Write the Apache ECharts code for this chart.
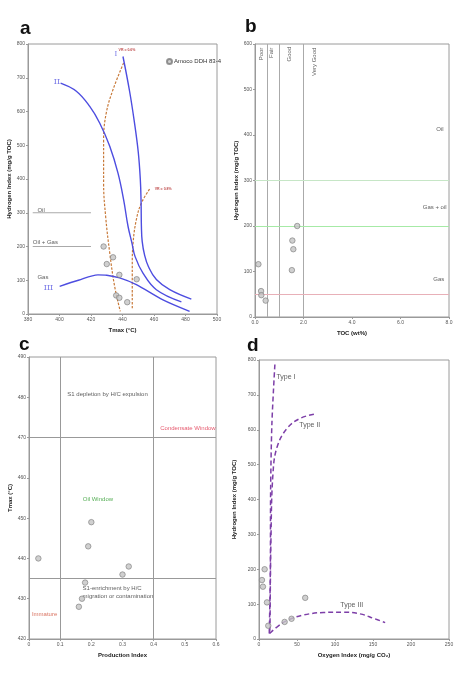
<!DOCTYPE html>
<html>
<head>
<meta charset="utf-8">
<script src="https://cdn.jsdelivr.net/npm/echarts@6/dist/echarts.min.js"></script>
<style>
html, body { margin: 0; padding: 0; background: #fff; }
#container { width: 474px; height: 679px; }
</style>
</head>
<body>
<div id="container"></div>
<script>
// panel a: Tmax vs HI
var aTmax = [428, 434, 430, 438, 449, 436, 438, 443];
var aHI = [200, 168, 148, 116, 103, 55, 48, 35];
// panel b: TOC vs HI
var bTOC = [1.74, 1.54, 1.58, 0.14, 1.52, 0.25, 0.26, 0.44];
var bHI = [200, 168, 149, 116, 103, 57, 48, 36];
// panel c: PI vs Tmax
var cPI = [0.20, 0.19, 0.03, 0.32, 0.30, 0.18, 0.17, 0.16];
var cTmax = [449, 443, 440, 438, 436, 434, 430, 428];
// panel d: OI vs HI
var dOI = [7.4, 3.9, 5.2, 10.5, 12.2, 33.7, 42.8, 60.8];
var dHI = [200, 169, 150, 105, 38, 49, 58, 118];

// kerogen pathways (panel a)
var pathI = [[440.3, 763], [444.5, 660], [447.5, 570], [450, 480], [451.3, 400], [451.8, 330], [452, 260], [452.5, 215], [454, 175], [456.5, 140], [461.5, 102], [470, 72], [483.7, 44]];
var pathII = [[400.7, 684], [410.7, 660], [419.2, 615], [425.5, 566], [431.9, 497], [437.1, 418], [440.7, 339], [443.5, 260], [446, 210], [448, 170], [453, 121], [461.5, 72], [477.4, 36]];
var pathIII = [[400.1, 82], [412, 100], [424.4, 116], [430, 115], [438.2, 107], [448.8, 87], [465.7, 42], [482.6, 8]];
var vr06 = [[440.7, 744], [434, 665], [429.7, 596], [428, 516], [428, 388], [429.3, 289], [431.9, 181], [435, 82], [438.6, 8]];
var vr08 = [[457.2, 370], [452, 329], [448.8, 280], [446.7, 210], [446.2, 141], [446.2, 13]];
var oilLine = [[383, 300], [420, 300]];
var oilGasLine = [[383, 200], [420, 200]];

// kerogen types (panel d)
var typeI = [[13.5, 16], [14.9, 188], [15.3, 427], [17, 619], [21, 791]];
var typeII = [[14, 22], [14.4, 35], [15.7, 284], [18.4, 475], [24, 552], [37, 604], [54.6, 633], [74.3, 645]];
var typeIII = [[13.9, 16], [24, 35], [37, 53], [59, 69], [85, 76], [111, 77], [133, 72], [151, 59], [166, 47]];

function zip(xs, ys) {
    return xs.map(function (x, i) { return [x, ys[i]]; });
}

var dom = document.getElementById('container');
var myChart = echarts.init(dom, null, { renderer: 'canvas' });

var font = 'Liberation Sans, Arial, sans-serif';
var frame = '#9a9a9a';

function xAx(grid, min, max, step, name, fmt) {
    return {
        type: 'value', gridIndex: grid, min: min, max: max, interval: step,
        name: name, nameLocation: 'middle', nameGap: 13,
        nameTextStyle: { fontSize: 6, fontWeight: 'bold', color: '#222', fontFamily: font },
        axisLine: { show: true, lineStyle: { color: frame } },
        axisTick: { show: true, length: 2, lineStyle: { color: frame } },
        axisLabel: { fontSize: 5, color: '#555', margin: 3, fontFamily: font, formatter: fmt },
        splitLine: { show: false }
    };
}
function yAx(grid, min, max, step, name, gap) {
    return {
        type: 'value', gridIndex: grid, min: min, max: max, interval: step,
        name: name, nameLocation: 'middle', nameGap: gap, nameRotate: 90,
        nameTextStyle: { fontSize: 6, fontWeight: 'bold', color: '#222', fontFamily: font },
        axisLine: { show: true, lineStyle: { color: frame } },
        axisTick: { show: true, length: 2, lineStyle: { color: frame } },
        axisLabel: { fontSize: 5, color: '#555', margin: 3, fontFamily: font },
        splitLine: { show: false }
    };
}

var pointStyle = { color: '#c4c4c4', borderColor: '#7a7a7a', borderWidth: 0.8 };

function textSeries(x, y, items) {
    return {
        type: 'scatter', xAxisIndex: x, yAxisIndex: y, symbolSize: 0, silent: true,
        data: items.map(function (t) {
            return {
                value: [t[1], t[2]],
                label: Object.assign({
                    show: true, formatter: t[0], position: 'inside',
                    fontSize: 6, color: '#333', fontFamily: font
                }, t[3] || {})
            };
        })
    };
}

function curve(x, y, data, color, width, type, smooth) {
    return {
        type: 'line', xAxisIndex: x, yAxisIndex: y, data: data, symbol: 'none',
        smooth: smooth, silent: true,
        lineStyle: { color: color, width: width, type: type }
    };
}

var blue = '#4d4de0';
var orange = '#c87a3a';
var purple = '#7d3fa8';

var option = {
    backgroundColor: '#fff',
    animation: false,
    title: [
        { text: 'a', left: 15, top: 14 },
        { text: 'b', left: 240, top: 12 },
        { text: 'c', left: 14, top: 330 },
        { text: 'd', left: 242, top: 331 }
    ].map(function (t) {
        t.textStyle = { fontSize: 19, fontWeight: 'bold', color: '#111', fontFamily: font };
        return t;
    }),
    legend: {
        left: 161, top: 53, itemWidth: 5, itemHeight: 5, itemGap: 2,
        icon: 'circle', data: ['Amoco DDH 83-4'],
        textStyle: { fontSize: 6, color: '#333', fontFamily: font, padding: [0, 0, 0, -3] }
    },
    grid: [
        { left: 28, top: 44, width: 189, height: 270 },
        { left: 255, top: 44, width: 194, height: 273 },
        { left: 29, top: 357, width: 187, height: 282 },
        { left: 259, top: 360, width: 190, height: 279 }
    ].map(function (g) {
        g.show = true; g.borderColor = frame; g.borderWidth = 1;
        return g;
    }),
    xAxis: [
        xAx(0, 380, 500, 20, 'Tmax (°C)'),
        xAx(1, 0, 8, 2, 'TOC (wt%)', function (v) { return v.toFixed(1); }),
        xAx(2, 0, 0.6, 0.1, 'Production Index', function (v) { return v === 0 ? '0' : String(Math.round(v * 10) / 10); }),
        xAx(3, 0, 250, 50, 'Oxygen Index (mg/g CO₂)')
    ],
    yAxis: [
        yAx(0, 0, 800, 100, 'Hydrogen Index (mg/g TOC)', 15),
        yAx(1, 0, 600, 100, 'Hydrogen Index (mg/g TOC)', 15),
        yAx(2, 420, 490, 10, 'Tmax (°C)', 13),
        yAx(3, 0, 800, 100, 'Hydrogen Index (mg/g TOC)', 22)
    ],
    series: [
        // ---- panel a ----
        curve(0, 0, oilLine, '#aaa', 1, 'solid', false),
        curve(0, 0, oilGasLine, '#aaa', 1, 'solid', false),
        curve(0, 0, vr06, orange, 1.2, [2.5, 1.5], 0.4),
        curve(0, 0, vr08, orange, 1.2, [2.5, 1.5], 0.4),
        curve(0, 0, pathI, blue, 1.4, 'solid', 0.4),
        curve(0, 0, pathII, blue, 1.4, 'solid', 0.4),
        curve(0, 0, pathIII, blue, 1.4, 'solid', 0.3),
        {
            name: 'Amoco DDH 83-4', type: 'scatter', xAxisIndex: 0, yAxisIndex: 0,
            symbolSize: 5.5, itemStyle: pointStyle, data: zip(aTmax, aHI), z: 5
        },
        textSeries(0, 0, [
            ['Oil', 386, 307, { position: 'right', distance: 0 }],
            ['Oil + Gas', 383, 213, { position: 'right', distance: 0 }],
            ['Gas', 386, 110, { position: 'right', distance: 0 }],
            ['II', 398.4, 689, { color: blue, fontSize: 8, fontFamily: 'DejaVu Serif, serif' }],
            ['III', 393, 77, { color: blue, fontSize: 8, fontFamily: 'DejaVu Serif, serif' }],
            ['I', 435.8, 770, { color: blue, fontSize: 7, fontFamily: 'DejaVu Serif, serif' }],
            ['VR = 0.6%', 437.5, 781, { position: 'right', distance: 0, fontSize: 3.5, color: '#b02020', fontWeight: 'bold' }],
            ['VR = 0.8%', 460.5, 369, { position: 'right', distance: 0, fontSize: 3.5, color: '#b02020', fontWeight: 'bold' }]
        ]),
        // ---- panel b ----
        {
            type: 'scatter', xAxisIndex: 1, yAxisIndex: 1, symbolSize: 5.5,
            itemStyle: pointStyle, data: zip(bTOC, bHI), z: 5,
            markLine: {
                silent: true, symbol: 'none', label: { show: false },
                data: [
                    { xAxis: 0.5, lineStyle: { color: '#aaa', width: 1, type: 'solid' } },
                    { xAxis: 1.0, lineStyle: { color: '#aaa', width: 1, type: 'solid' } },
                    { xAxis: 2.0, lineStyle: { color: '#aaa', width: 1, type: 'solid' } },
                    { yAxis: 300, lineStyle: { color: '#c6e6c6', width: 1, type: 'solid' } },
                    { yAxis: 200, lineStyle: { color: '#a6eaa6', width: 1, type: 'solid' } },
                    { yAxis: 50, lineStyle: { color: '#e8b0b8', width: 1, type: 'solid' } }
                ]
            }
        },
        textSeries(1, 1, [
            ['Poor', 0.25, 592, { rotate: 90, align: 'right', verticalAlign: 'middle', position: [0, 0] }],
            ['Fair', 0.66, 592, { rotate: 90, align: 'right', verticalAlign: 'middle', position: [0, 0] }],
            ['Good', 1.40, 594, { rotate: 90, align: 'right', verticalAlign: 'middle', position: [0, 0] }],
            ['Very Good', 2.45, 592, { rotate: 90, align: 'right', verticalAlign: 'middle', position: [0, 0] }],
            ['Oil', 7.63, 412],
            ['Gas + oil', 7.41, 240],
            ['Gas', 7.58, 82]
        ]),
        // ---- panel c ----
        {
            type: 'scatter', xAxisIndex: 2, yAxisIndex: 2, symbolSize: 5.5,
            itemStyle: pointStyle, data: zip(cPI, cTmax), z: 5,
            markLine: {
                silent: true, symbol: 'none', label: { show: false },
                lineStyle: { color: '#999', width: 1, type: 'solid' },
                data: [{ xAxis: 0.1 }, { xAxis: 0.4 }, { yAxis: 470 }, { yAxis: 435 }]
            }
        },
        textSeries(2, 2, [
            ['S1 depletion by H/C expulsion', 0.252, 480.7],
            ['Condensate Window', 0.51, 472.2, { color: '#e0304a' }],
            ['Oil Window', 0.221, 454.6, { color: '#2a9a2a' }],
            ['S1-enrichment by H/C\nmigration or contamination', 0.172, 431.7, { position: 'right', distance: 0, lineHeight: 8 }],
            ['Immature', 0.05, 426, { color: '#d0503a' }]
        ]),
        // ---- panel d ----
        curve(3, 3, typeI, purple, 1.5, [5, 3], 0.3),
        curve(3, 3, typeII, purple, 1.5, [5, 3], 0.4),
        curve(3, 3, typeIII, purple, 1.5, [5, 3], 0.4),
        {
            type: 'scatter', xAxisIndex: 3, yAxisIndex: 3, symbolSize: 5.5,
            itemStyle: pointStyle, data: zip(dOI, dHI), z: 5
        },
        textSeries(3, 3, [
            ['Type I', 23, 752, { position: 'right', distance: 0, fontSize: 7 }],
            ['Type II', 53, 614, { position: 'right', distance: 0, fontSize: 7 }],
            ['Type III', 107, 97, { position: 'right', distance: 0, fontSize: 7 }]
        ])
    ]
};

if (option && typeof option === 'object') {
    myChart.setOption(option);
}

window.addEventListener('resize', myChart.resize);
</script>
</body>
</html>
